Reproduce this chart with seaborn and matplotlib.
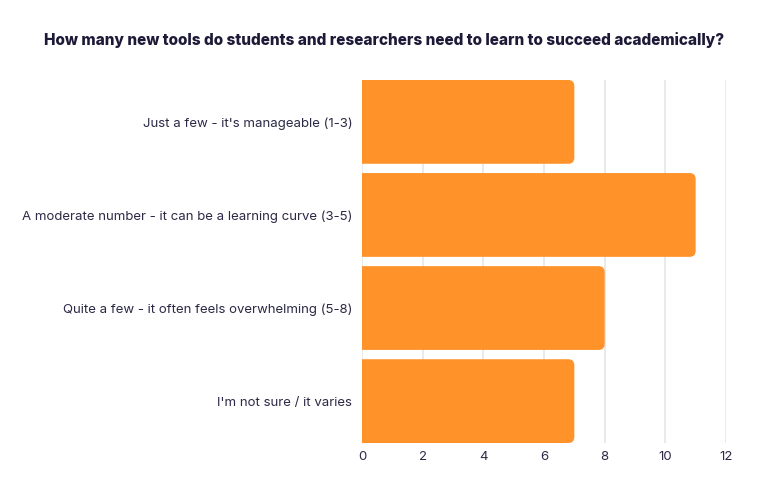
import matplotlib
matplotlib.use("Agg")
import matplotlib.pyplot as plt
from matplotlib.patches import FancyBboxPatch
import seaborn as sns
import pandas as pd

categories = [
    "Just a few - it's manageable (1-3)",
    "A moderate number - it can be a learning curve (3-5)",
    "Quite a few - it often feels overwhelming (5-8)",
    "I'm not sure / it varies",
]
counts = [7, 11, 8, 7]
x_ticks = [0, 2, 4, 6, 8, 10, 12]

df = pd.DataFrame({"answer": categories, "count": counts})

sns.set_theme(style="white")
plt.rcParams["font.family"] = ["Inter", "DejaVu Sans"]

text_col = "#2b2945"
bar_col = "#FF9228"

fig = plt.figure(figsize=(7.68, 4.9), dpi=100)
ax = fig.add_axes([362 / 768, 1 - 443 / 490, (726 - 362) / 768, (443 - 80) / 490])

sns.barplot(data=df, y="answer", x="count", color=bar_col, width=0.9,
            saturation=1, ax=ax, zorder=2)

# swap plain rectangles for ones with rounded corners
r = 0.2
px_per_x = (726 - 362) / 12
px_per_y = 93
for p in list(ax.patches):
    x0, y0 = p.get_x(), p.get_y()
    w, h = p.get_width(), p.get_height()
    rb = FancyBboxPatch((x0 - r, y0), w + r, h,
                        boxstyle=f"round,pad=0,rounding_size={r}",
                        mutation_aspect=px_per_x / px_per_y,
                        fc=bar_col, ec="none", zorder=2)
    rb.set_clip_path(ax.patch)
    ax.add_patch(rb)
    p.remove()

ax.set_xlim(0, 12)
ax.set_ylim(3.45, -0.45)
ax.set_xticks(x_ticks)
ax.set_xticklabels([str(t) for t in x_ticks])
ax.grid(axis="x", color="#e6e6e6", linewidth=1.2, zorder=0)
ax.set_axisbelow(True)
for s in ax.spines.values():
    s.set_visible(False)
ax.set_xlabel("")
ax.set_ylabel("")
ax.tick_params(axis="both", length=0, labelsize=9.5, colors=text_col)
ax.tick_params(axis="y", pad=7)
ax.tick_params(axis="x", pad=6)

fig.text(0.5, 1 - 40 / 490, "How many new tools do students and researchers need to learn to succeed academically?",
         ha="center", va="center", fontsize=11, fontweight="heavy", color="#1d1a38")

fig.savefig("out.png", dpi=100, facecolor="white")
